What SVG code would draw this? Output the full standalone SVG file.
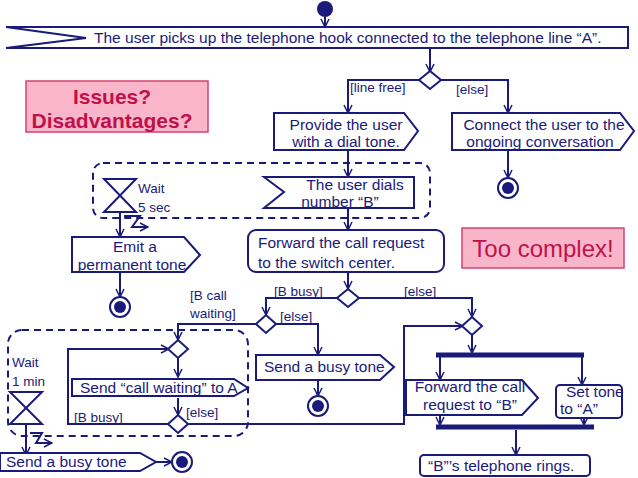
<svg xmlns="http://www.w3.org/2000/svg" width="638" height="478" viewBox="0 0 638 478">
<style>
.s{fill:#fff;stroke:#1a1a7a;stroke-width:2}
.l{fill:none;stroke:#1a1a7a;stroke-width:2}
.d{fill:none;stroke:#1a1a7a;stroke-width:2;stroke-dasharray:7 5}
.t{font-family:"Liberation Sans",Arial,sans-serif;font-size:15.5px;fill:#1a1a7a}
.g{font-family:"Liberation Sans",Arial,sans-serif;font-size:13.5px;fill:#1a1a7a}
.c{text-anchor:middle}
.p{fill:#f9b6ca;stroke:#d84070;stroke-width:1.5}
.pt{font-family:"Liberation Sans",Arial,sans-serif;fill:#c0104a;text-anchor:middle}
.f{fill:#1a1a7a}
.bar{stroke:#1a1a7a;stroke-width:5}
</style>
<defs>
<marker id="a" markerWidth="10" markerHeight="10" refX="9" refY="5" orient="auto" markerUnits="userSpaceOnUse"><path d="M1,1 L9,5 L1,9" fill="none" stroke="#1a1a7a" stroke-width="1.5"/></marker>
</defs>
<g id="regions">
<rect class="d" x="93" y="163" width="337" height="55" rx="10"/>
<rect class="d" x="8" y="330" width="240" height="106" rx="14"/>
</g>
<g id="connectors" marker-end="url(#a)">
<path class="l" d="M325,17 V27"/>
<path class="l" d="M430,48 V72"/>
<path class="l" d="M420,80 H348 V113"/>
<path class="l" d="M440,80 H508 V113"/>
<path class="l" d="M508,150 V178"/>
<path class="l" d="M348,150 V177"/>
<path class="l" d="M348,208 V230"/>
<path class="l" d="M348,272 V289"/>
<path class="l" d="M338,298 H266 V315"/>
<path class="l" d="M358,298 H472 V317"/>
<path class="l" d="M120,212 V237"/>
<path class="l" d="M124,216 H140 L132,227 H148"/>
<path class="l" d="M120,272 V297"/>
<path class="l" d="M256,324 H178 V340"/>
<path class="l" d="M276,324 H318 V355"/>
<path class="l" d="M318,380 V396"/>
<path class="l" d="M178,358 V377"/>
<path class="l" d="M178,398 V415"/>
<path class="l" d="M168,424 H68 V349 H169"/>
<path class="l" d="M188,424 H404 V326 H463"/>
<path class="l" d="M26,424 V455"/>
<path class="l" d="M30,433 H42 L36,443 H52"/>
<path class="l" d="M156,462 H172"/>
<path class="l" d="M472,335 V353"/>
<path class="l" d="M440,357 V380"/>
<path class="l" d="M582,357 V385"/>
<path class="l" d="M440,415 V425"/>
<path class="l" d="M584,418 V425"/>
<path class="l" d="M516,430 V455"/>
</g>
<g id="start"><circle class="f" cx="325" cy="9" r="8"/></g>
<g id="pick">
<polygon class="s" points="6,27 628,27 628,48 6,48 86,38"/>
<text class="t" x="94" y="43">The user picks up the telephone hook connected to the telephone line “A”.</text>
</g>
<g id="dec1"><polygon class="s" points="430,71 441,80 430,89 419,80"/>
<text class="g" x="350" y="92">[line free]</text><text class="g" x="456" y="94">[else]</text></g>
<g id="issues"><rect class="p" x="26" y="81" width="182" height="51"/>
<text class="pt" x="112" y="104" font-size="21" font-weight="bold">Issues?</text>
<text class="pt" x="112" y="128" font-size="21" font-weight="bold">Disadvantages?</text></g>
<g id="provide"><polygon class="s" points="274,113 404,113 418,131 404,150 274,150"/>
<text class="t c" x="346" y="130">Provide the user</text><text class="t c" x="346" y="147">with a dial tone.</text></g>
<g id="connect"><polygon class="s" points="452,113 620,113 634,131 620,150 452,150"/>
<text class="t c" x="544" y="130">Connect the user to the</text><text class="t c" x="540" y="147">ongoing conversation</text></g>
<g id="end1"><circle class="s" cx="508" cy="188" r="10"/><circle class="f" cx="508" cy="188" r="6"/></g>
<g id="wait5"><polygon class="s" points="104,179 136,179 104,212 136,212"/>
<text class="g" x="138" y="193">Wait</text><text class="g" x="138" y="212">5 sec</text></g>
<g id="dials"><polygon class="s" points="264,177 414,177 414,208 264,208 284,192"/>
<text class="t c" x="355" y="190">The user dials</text><text class="t c" x="340" y="207">number “B”</text></g>
<g id="forward"><rect class="s" x="248" y="230" width="196" height="42" rx="8"/>
<text class="t" x="258" y="248">Forward the call request</text><text class="t" x="258" y="268">to the switch center.</text></g>
<g id="toocomplex"><rect class="p" x="462" y="228" width="162" height="40"/>
<text class="pt" x="543" y="257" font-size="24">Too complex!</text></g>
<g id="emit"><polygon class="s" points="72,237 184,237 200,255 184,272 72,272"/>
<text class="t c" x="135" y="252">Emit a</text><text class="t c" x="132" y="270">permanent tone</text></g>
<g id="end2"><circle class="s" cx="120" cy="307" r="10"/><circle class="f" cx="120" cy="307" r="6"/></g>
<g id="dec2"><polygon class="s" points="348,289 359,298 348,307 337,298"/>
<text class="g" x="274" y="296">[B busy]</text><text class="g" x="404" y="296">[else]</text></g>
<g id="dec3"><polygon class="s" points="266,315 276,324 266,333 256,324"/>
<text class="g" x="190" y="300">[B call</text><text class="g" x="190" y="318">waiting]</text><text class="g" x="280" y="321">[else]</text></g>
<g id="dec4"><polygon class="s" points="472,317 482,326 472,335 462,326"/></g>
<g id="busy1"><polygon class="s" points="256,355 380,355 394,367 380,380 256,380"/>
<text class="t" x="264" y="372">Send a busy tone</text></g>
<g id="end3"><circle class="s" cx="318" cy="406" r="10"/><circle class="f" cx="318" cy="406" r="6"/></g>
<g id="dec5"><polygon class="s" points="178,340 188,349 178,358 168,349"/></g>
<g id="cw"><polygon class="s" points="72,379 234,379 248,388 234,396 72,396"/>
<text class="t" x="80" y="393">Send “call waiting” to A</text></g>
<g id="dec6"><polygon class="s" points="178,415 188,424 178,433 168,424"/>
<text class="g" x="186" y="417">[else]</text><text class="g" x="74" y="422">[B busy]</text></g>
<g id="wait1"><text class="g" x="12" y="367">Wait</text><text class="g" x="12" y="386">1 min</text>
<polygon class="s" points="10,392 42,392 10,424 42,424"/></g>
<g id="busy2"><polygon class="s" points="0,453 140,453 156,462 140,471 0,471"/>
<text class="t" x="6" y="467">Send a busy tone</text></g>
<g id="end4"><circle class="s" cx="182" cy="462" r="10"/><circle class="f" cx="182" cy="462" r="6"/></g>
<g id="fork"><line class="bar" x1="436" y1="355" x2="584" y2="355"/></g>
<g id="fwdb"><polygon class="s" points="406,380 522,380 538,398 522,415 406,415"/>
<text class="t c" x="470" y="392">Forward the call</text><text class="t c" x="470" y="410">request to “B”</text></g>
<g id="settone"><rect class="s" x="556" y="385" width="66" height="33" rx="4"/>
<text class="t" x="566" y="397">Set tone</text><text class="t" x="560" y="414">to “A”</text></g>
<g id="join"><line class="bar" x1="436" y1="427" x2="594" y2="427"/></g>
<g id="rings"><rect class="s" x="420" y="455" width="170" height="21" rx="4"/>
<text class="t" x="428" y="471">“B”’s telephone rings.</text></g>
</svg>
